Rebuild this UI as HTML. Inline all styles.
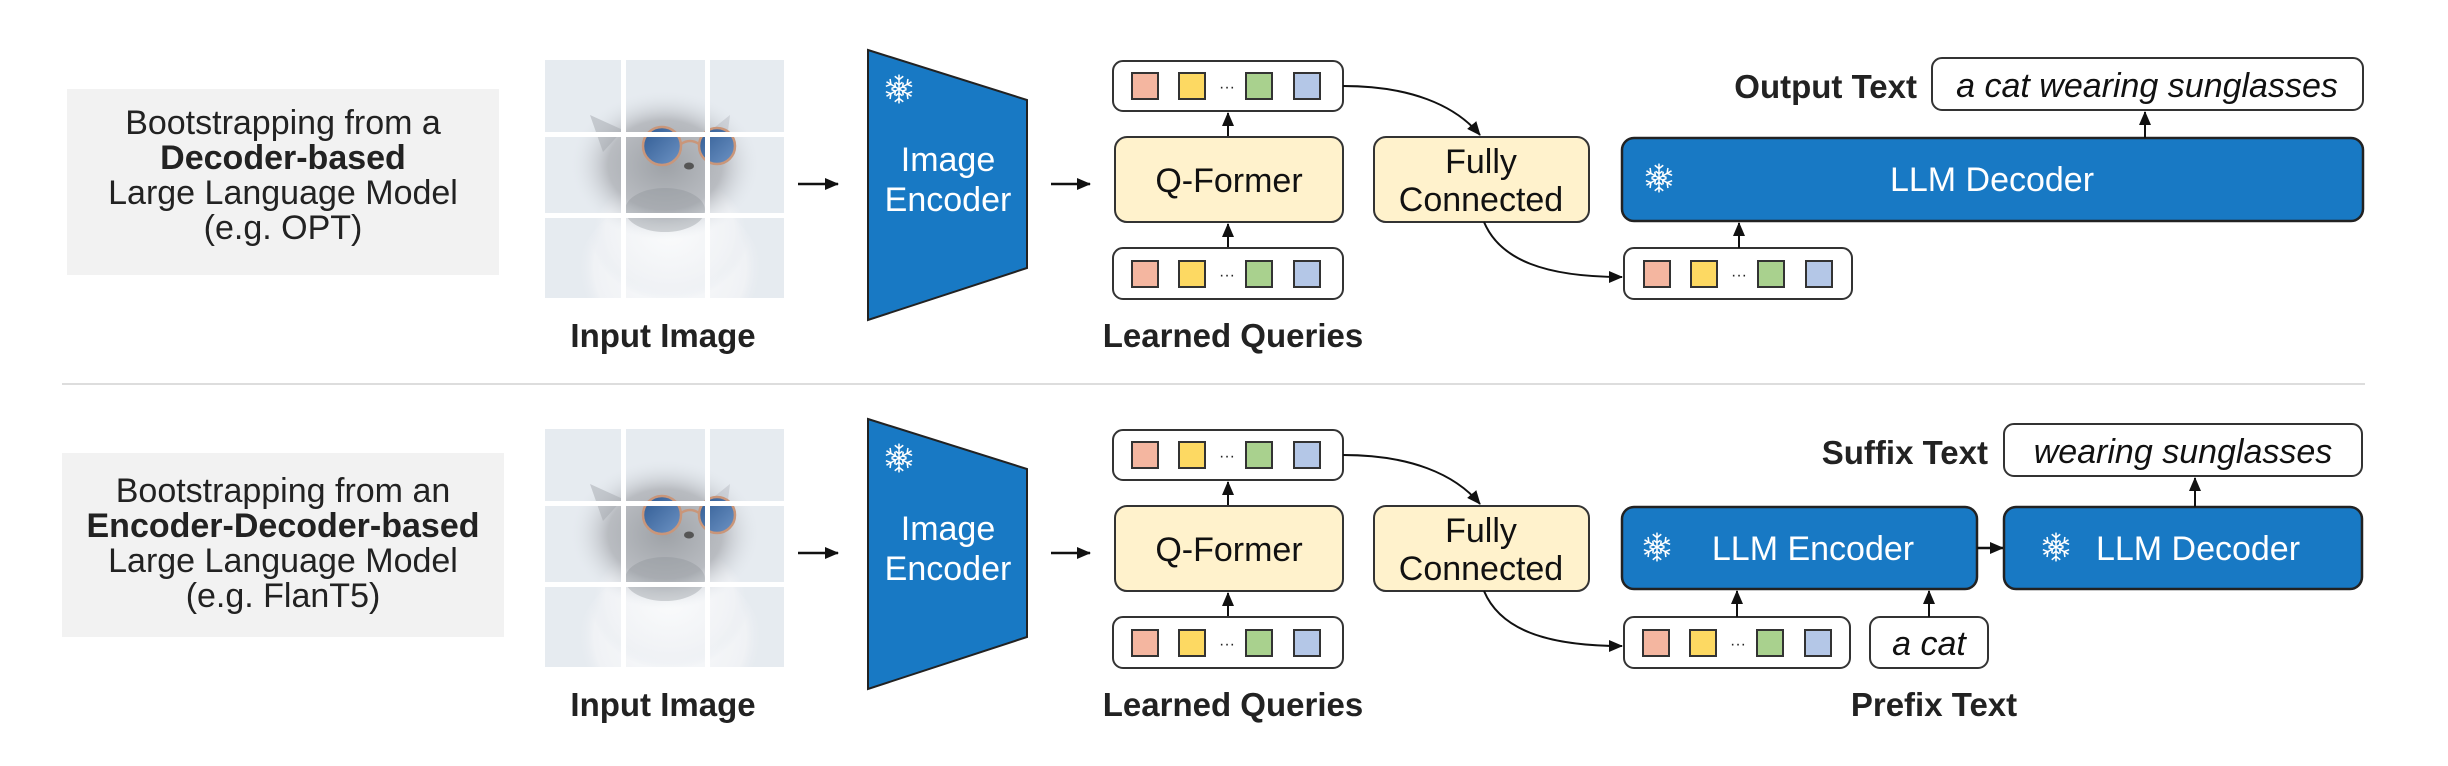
<!DOCTYPE html>
<html><head><meta charset="utf-8"><style>
html,body{margin:0;padding:0;background:#fff;}
svg{display:block;}
text{font-family:"Liberation Sans",Arial,sans-serif;}
</style></head><body>
<svg width="2448" height="766" viewBox="0 0 2448 766" xmlns="http://www.w3.org/2000/svg">
<defs>
<marker id="ah" markerWidth="14" markerHeight="12" refX="13" refY="6" orient="auto" markerUnits="userSpaceOnUse" viewBox="0 0 14 12">
<path d="M0,0 L14,6 L0,12 z" fill="#111"/></marker>
<radialGradient id="head" cx="0.5" cy="0.5" r="0.5">
<stop offset="0" stop-color="#9ea2a7"/><stop offset="0.6" stop-color="#b9bcc1"/><stop offset="1" stop-color="#e4e9ef" stop-opacity="0"/></radialGradient>
<radialGradient id="body" cx="0.5" cy="0.4" r="0.5">
<stop offset="0" stop-color="#fafbfc"/><stop offset="0.8" stop-color="#f0f2f5"/><stop offset="1" stop-color="#e4e9ef" stop-opacity="0"/></radialGradient>
<linearGradient id="lens" x1="0" y1="0" x2="1" y2="1"><stop offset="0" stop-color="#2f5a92"/><stop offset="1" stop-color="#6d93c4"/></linearGradient>
<symbol id="cat" viewBox="0 0 239 238">
<rect width="239" height="238" fill="#e6ebf0"/>
<ellipse cx="125" cy="225" rx="95" ry="90" fill="url(#body)"/>
<ellipse cx="125" cy="185" rx="80" ry="70" fill="url(#body)"/>
<ellipse cx="120" cy="105" rx="95" ry="75" fill="url(#head)"/>
<path d="M45,55 L78,70 L58,92 z" fill="#a4a8ae" opacity="0.5"/>
<path d="M185,55 L160,75 L180,95 z" fill="#aeb2b8" opacity="0.4"/>
<ellipse cx="120" cy="150" rx="40" ry="22" fill="#8a8e94" opacity="0.35"/>
<circle cx="117" cy="86" r="19" fill="url(#lens)" stroke="#c9967a" stroke-width="2.5"/>
<circle cx="172" cy="86" r="18" fill="url(#lens)" stroke="#c9967a" stroke-width="2.5"/>
<path d="M136,84 Q145,78 154,84" stroke="#c9967a" stroke-width="2.5" fill="none"/>
<ellipse cx="144" cy="106" rx="5" ry="3.5" fill="#555"/>
<rect x="76" y="0" width="5" height="238" fill="#fff"/>
<rect x="160" y="0" width="5" height="238" fill="#fff"/>
<rect x="0" y="72" width="239" height="5" fill="#fff"/>
<rect x="0" y="153" width="239" height="5" fill="#fff"/>
</symbol>
<symbol id="snow" viewBox="-20 -20 40 40">
<g stroke="#fff" stroke-width="1.8" fill="none">
<g id="arm"><line x1="0" y1="0" x2="0" y2="-17"/><polyline points="-5,-15 0,-11 5,-15"/><polyline points="-4,-8 0,-5 4,-8"/></g>
<use href="#arm" transform="rotate(60)"/><use href="#arm" transform="rotate(120)"/><use href="#arm" transform="rotate(180)"/><use href="#arm" transform="rotate(240)"/><use href="#arm" transform="rotate(300)"/>
</g></symbol>
<g id="sq4">
<rect x="0" y="0" width="26" height="26" fill="#f4b6a0" stroke="#333" stroke-width="2"/>
<rect x="47" y="0" width="26" height="26" fill="#fdd962" stroke="#333" stroke-width="2"/>
<text x="95" y="19" font-size="16" text-anchor="middle" fill="#222">···</text>
<rect x="114" y="0" width="26" height="26" fill="#a9d18e" stroke="#333" stroke-width="2"/>
<rect x="162" y="0" width="26" height="26" fill="#b4c7e7" stroke="#333" stroke-width="2"/>
</g>
</defs>

<!-- ===== TOP ROW ===== -->
<rect x="67" y="89" width="432" height="186" fill="#f2f2f2"/>
<g font-size="34" text-anchor="middle" fill="#222">
<text x="283" y="134">Bootstrapping from a</text>
<text x="283" y="169" font-weight="bold">Decoder-based</text>
<text x="283" y="204">Large Language Model</text>
<text x="283" y="239">(e.g. OPT)</text>
</g>
<use href="#cat" x="545" y="60" width="239" height="238"/>
<text x="663" y="347" font-size="33" font-weight="bold" text-anchor="middle" fill="#222">Input Image</text>
<line x1="798" y1="184" x2="838" y2="184" stroke="#111" stroke-width="2.5" marker-end="url(#ah)"/>
<path d="M868,50 L1027,100 L1027,268 L868,320 z" fill="#1879c4" stroke="#222" stroke-width="2"/>
<use href="#snow" x="882" y="72" width="34" height="34"/>
<text x="948" y="171" font-size="34" text-anchor="middle" fill="#fff">Image</text>
<text x="948" y="211" font-size="34" text-anchor="middle" fill="#fff">Encoder</text>
<line x1="1051" y1="184" x2="1090" y2="184" stroke="#111" stroke-width="2.5" marker-end="url(#ah)"/>

<rect x="1113" y="61" width="230" height="50" rx="10" fill="#fff" stroke="#333" stroke-width="2"/>
<use href="#sq4" x="1132" y="73"/>
<line x1="1228" y1="137" x2="1228" y2="113" stroke="#111" stroke-width="2" marker-end="url(#ah)"/>
<rect x="1115" y="137" width="228" height="85" rx="12" fill="#fff2cc" stroke="#333" stroke-width="2"/>
<text x="1229" y="192" font-size="34" text-anchor="middle" fill="#111">Q-Former</text>
<line x1="1228" y1="248" x2="1228" y2="224" stroke="#111" stroke-width="2" marker-end="url(#ah)"/>
<rect x="1113" y="248" width="230" height="51" rx="10" fill="#fff" stroke="#333" stroke-width="2"/>
<use href="#sq4" x="1132" y="261"/>
<text x="1233" y="347" font-size="33" font-weight="bold" text-anchor="middle" fill="#222">Learned Queries</text>

<rect x="1374" y="137" width="215" height="85" rx="12" fill="#fff2cc" stroke="#333" stroke-width="2"/>
<text x="1481" y="173" font-size="34" text-anchor="middle" fill="#111">Fully</text>
<text x="1481" y="211" font-size="34" text-anchor="middle" fill="#111">Connected</text>
<path d="M1343,86 C1410,86 1455,105 1480,135" stroke="#111" stroke-width="2" fill="none" marker-end="url(#ah)"/>
<path d="M1484,222 C1500,260 1545,277 1622,277" stroke="#111" stroke-width="2" fill="none" marker-end="url(#ah)"/>

<rect x="1622" y="138" width="741" height="83" rx="12" fill="#1879c4" stroke="#222" stroke-width="2.5"/>
<use href="#snow" x="1642" y="161" width="34" height="34"/>
<text x="1992" y="191" font-size="34" text-anchor="middle" fill="#fff">LLM Decoder</text>
<rect x="1624" y="248" width="228" height="51" rx="10" fill="#fff" stroke="#333" stroke-width="2"/>
<use href="#sq4" x="1644" y="261"/>
<line x1="1739" y1="248" x2="1739" y2="223" stroke="#111" stroke-width="2" marker-end="url(#ah)"/>
<line x1="2145" y1="138" x2="2145" y2="112" stroke="#111" stroke-width="2" marker-end="url(#ah)"/>
<rect x="1932" y="58" width="431" height="52" rx="10" fill="#fff" stroke="#333" stroke-width="2"/>
<text x="2147" y="97" font-size="34" font-style="italic" text-anchor="middle" fill="#111">a cat wearing sunglasses</text>
<text x="1917" y="98" font-size="33" font-weight="bold" text-anchor="end" fill="#222">Output Text</text>

<line x1="62" y1="384" x2="2365" y2="384" stroke="#ddd" stroke-width="2"/>

<!-- ===== BOTTOM ROW ===== -->
<rect x="62" y="453" width="442" height="184" fill="#f2f2f2"/>
<g font-size="34" text-anchor="middle" fill="#222">
<text x="283" y="502">Bootstrapping from an</text>
<text x="283" y="537" font-weight="bold">Encoder-Decoder-based</text>
<text x="283" y="572">Large Language Model</text>
<text x="283" y="607">(e.g. FlanT5)</text>
</g>
<use href="#cat" x="545" y="429" width="239" height="238"/>
<text x="663" y="716" font-size="33" font-weight="bold" text-anchor="middle" fill="#222">Input Image</text>
<line x1="798" y1="553" x2="838" y2="553" stroke="#111" stroke-width="2.5" marker-end="url(#ah)"/>
<path d="M868,419 L1027,469 L1027,637 L868,689 z" fill="#1879c4" stroke="#222" stroke-width="2"/>
<use href="#snow" x="882" y="441" width="34" height="34"/>
<text x="948" y="540" font-size="34" text-anchor="middle" fill="#fff">Image</text>
<text x="948" y="580" font-size="34" text-anchor="middle" fill="#fff">Encoder</text>
<line x1="1051" y1="553" x2="1090" y2="553" stroke="#111" stroke-width="2.5" marker-end="url(#ah)"/>

<rect x="1113" y="430" width="230" height="50" rx="10" fill="#fff" stroke="#333" stroke-width="2"/>
<use href="#sq4" x="1132" y="442"/>
<line x1="1228" y1="506" x2="1228" y2="482" stroke="#111" stroke-width="2" marker-end="url(#ah)"/>
<rect x="1115" y="506" width="228" height="85" rx="12" fill="#fff2cc" stroke="#333" stroke-width="2"/>
<text x="1229" y="561" font-size="34" text-anchor="middle" fill="#111">Q-Former</text>
<line x1="1228" y1="617" x2="1228" y2="593" stroke="#111" stroke-width="2" marker-end="url(#ah)"/>
<rect x="1113" y="617" width="230" height="51" rx="10" fill="#fff" stroke="#333" stroke-width="2"/>
<use href="#sq4" x="1132" y="630"/>
<text x="1233" y="716" font-size="33" font-weight="bold" text-anchor="middle" fill="#222">Learned Queries</text>

<rect x="1374" y="506" width="215" height="85" rx="12" fill="#fff2cc" stroke="#333" stroke-width="2"/>
<text x="1481" y="542" font-size="34" text-anchor="middle" fill="#111">Fully</text>
<text x="1481" y="580" font-size="34" text-anchor="middle" fill="#111">Connected</text>
<path d="M1343,455 C1410,455 1455,474 1480,504" stroke="#111" stroke-width="2" fill="none" marker-end="url(#ah)"/>
<path d="M1484,591 C1500,629 1545,646 1622,646" stroke="#111" stroke-width="2" fill="none" marker-end="url(#ah)"/>

<rect x="1622" y="507" width="355" height="82" rx="12" fill="#1879c4" stroke="#222" stroke-width="2.5"/>
<use href="#snow" x="1640" y="530" width="34" height="34"/>
<text x="1813" y="560" font-size="34" text-anchor="middle" fill="#fff">LLM Encoder</text>
<line x1="1977" y1="548" x2="2003" y2="548" stroke="#111" stroke-width="2.5" marker-end="url(#ah)"/>
<rect x="2004" y="507" width="358" height="82" rx="12" fill="#1879c4" stroke="#222" stroke-width="2.5"/>
<use href="#snow" x="2039" y="530" width="34" height="34"/>
<text x="2198" y="560" font-size="34" text-anchor="middle" fill="#fff">LLM Decoder</text>
<line x1="2195" y1="507" x2="2195" y2="478" stroke="#111" stroke-width="2" marker-end="url(#ah)"/>
<rect x="2004" y="424" width="358" height="52" rx="10" fill="#fff" stroke="#333" stroke-width="2"/>
<text x="2183" y="463" font-size="34" font-style="italic" text-anchor="middle" fill="#111">wearing sunglasses</text>
<text x="1988" y="464" font-size="33" font-weight="bold" text-anchor="end" fill="#222">Suffix Text</text>

<rect x="1624" y="617" width="226" height="51" rx="10" fill="#fff" stroke="#333" stroke-width="2"/>
<use href="#sq4" x="1643" y="630"/>
<line x1="1737" y1="617" x2="1737" y2="591" stroke="#111" stroke-width="2" marker-end="url(#ah)"/>
<rect x="1870" y="617" width="118" height="51" rx="10" fill="#fff" stroke="#333" stroke-width="2"/>
<text x="1929" y="655" font-size="34" font-style="italic" text-anchor="middle" fill="#111">a cat</text>
<line x1="1929" y1="617" x2="1929" y2="591" stroke="#111" stroke-width="2" marker-end="url(#ah)"/>
<text x="1934" y="716" font-size="33" font-weight="bold" text-anchor="middle" fill="#222">Prefix Text</text>
</svg>
</body></html>
